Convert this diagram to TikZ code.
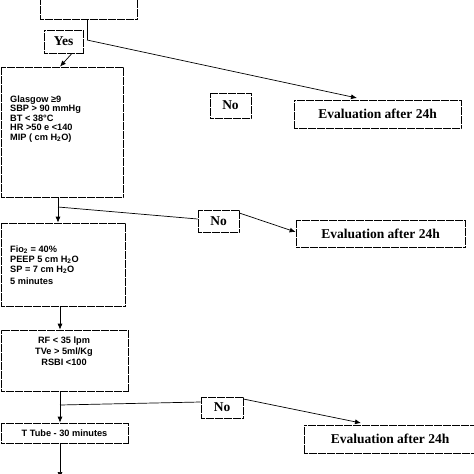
\documentclass[tikz,border=0pt]{standalone}
\usepackage{fontspec}
\setmainfont{Liberation Serif}
\setsansfont{Liberation Sans}
\usetikzlibrary{arrows.meta,calc}
\begin{document}
\begin{tikzpicture}[x=1pt,y=-1pt,
  box/.style={draw, line width=0.7pt, dash pattern=on 4pt off 0.5pt, inner sep=0pt, rectangle},
  lbl/.style={box, font=\fontsize{13.5}{15}\selectfont\bfseries},
  crit/.style={inner sep=0pt, font=\sffamily\bfseries\fontsize{9.2}{9.5}\selectfont},
  conn/.style={line width=0.7pt},
  arr/.style={conn,-{Latex[length=6pt,width=5pt]}}]
\useasboundingbox (0,0) rectangle (474,474);
% boxes
\node[box, minimum width=97pt, minimum height=29pt] (top) at (88.5,4.5) {};
\node[lbl, minimum width=39pt, minimum height=23pt] (yes) at (63.5,41.5) {Yes};
\node[box, minimum width=122pt, minimum height=130pt] (glas) at (62,132) {};
\node[lbl, minimum width=41pt, minimum height=25pt] (no1) at (230.5,105.5) {No};
\node[lbl, minimum width=167pt, minimum height=28pt] (ev1) at (377.5,114) {Evaluation after 24h};
\node[box, minimum width=124pt, minimum height=83pt] (fio) at (63,264.5) {};
\node[lbl, minimum width=41pt, minimum height=22pt] (no2) at (218.5,221) {No};
\node[lbl, minimum width=169pt, minimum height=27pt] (ev2) at (380.5,233.5) {Evaluation after 24h};
\node[box, minimum width=127pt, minimum height=61pt] (rf) at (64.5,360.5) {};
\node[lbl, minimum width=42pt, minimum height=21pt] (no3) at (222,407.5) {No};
\node[lbl, minimum width=172pt, minimum height=28pt] (ev3) at (390,439) {Evaluation after 24h};
\node[box, minimum width=127pt, minimum height=20pt, font=\sffamily\bfseries\fontsize{9.2}{9.5}\selectfont] (tt) at (64.5,433) {T Tube - 30 minutes};
% texts
\node[crit, anchor=base west] (glastext) at (10,102.3) {\begin{tabular}[t]{@{}l@{}}
Glasgow ≥9\\
SBP > 90 mmHg\\
BT < 38°C\\
HR >50 e <140\\
MIP ( cm H\textsubscript{2}O)
\end{tabular}};
\node[crit, anchor=base west, font=\sffamily\bfseries\fontsize{9.2}{10}\selectfont] (fiotext) at (10,252.3) {\begin{tabular}[t]{@{}l@{}}
Fio\textsubscript{2} = 40\%\\
PEEP 5 cm H\textsubscript{2}O\\
SP = 7 cm H\textsubscript{2}O\\[2pt]
5 minutes
\end{tabular}};
\node[crit, anchor=base, font=\sffamily\bfseries\fontsize{9.2}{11}\selectfont] (rftext) at (64,343.3) {\begin{tabular}[t]{@{}c@{}}
RF < 35 lpm\\
TVe > 5ml/Kg\\
RSBI <100
\end{tabular}};
% connectors
\coordinate (j1) at (87,40);
\coordinate (t1) at (357,98);
\draw[conn] (top.south -| j1) -- (j1);
\draw[arr] (j1) -- (t1);
\draw[arr] ([xshift=8.5pt]yes.south) -- ([xshift=-2pt]glas.north);
\draw[arr] ([xshift=-4pt]glas.south) -- ([xshift=-5pt]fio.north);
\coordinate (j2) at (58,207);
\draw[conn] (j2) -- ([yshift=2pt]no2.west);
\draw[arr] ([yshift=8pt]no2.east) -- ([yshift=1.5pt]ev2.west);
\draw[arr] ([xshift=-3pt]fio.south) -- ([xshift=-4.5pt]rf.north);
\draw[arr] ([xshift=-4.5pt]rf.south) -- ([xshift=-4.5pt]tt.north);
\coordinate (j3) at (60,405);
\coordinate (t3) at (361,423);
\draw[conn] (j3) -- ([yshift=5.5pt]no3.west);
\draw[arr] ([yshift=8.5pt]no3.east) -- (t3);
\coordinate (bot) at (60,478);
\draw[arr] ([xshift=-4.5pt]tt.south) -- (bot);
\end{tikzpicture}
\end{document}
